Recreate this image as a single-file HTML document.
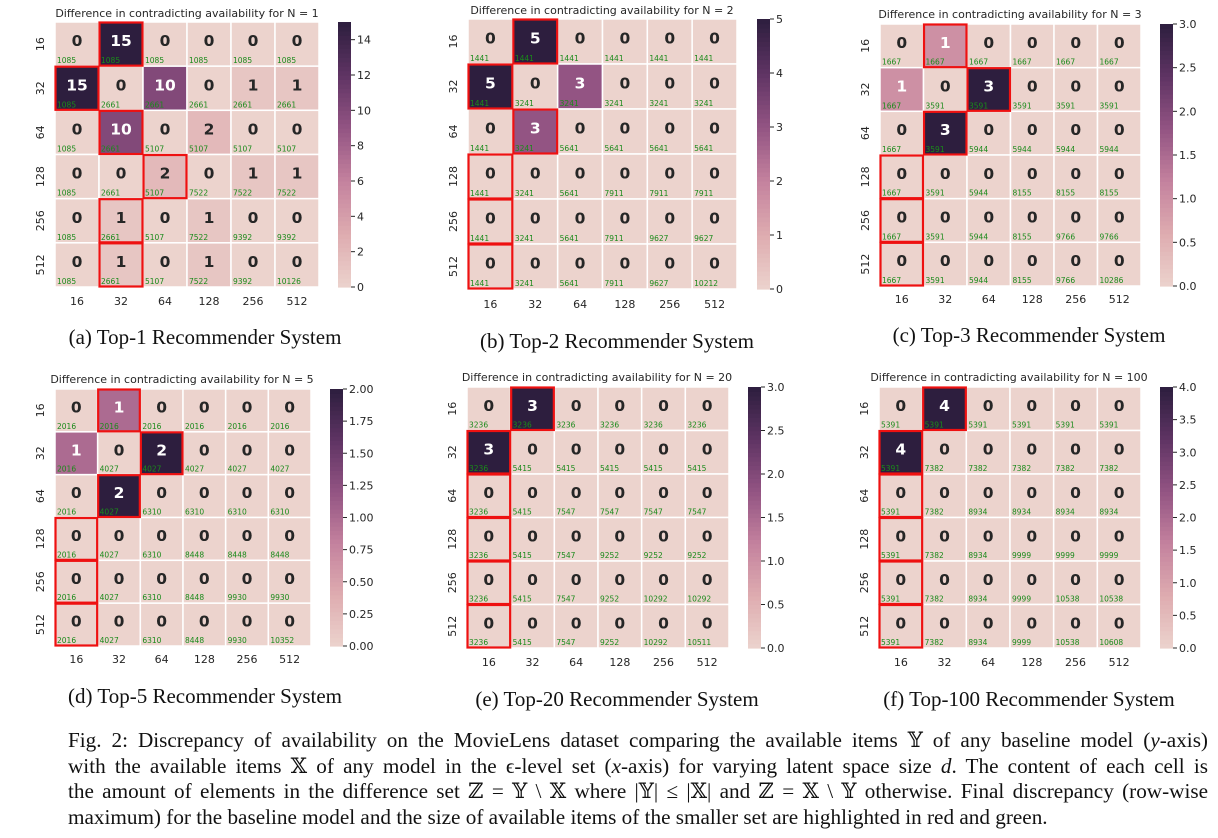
<!DOCTYPE html>
<html><head><meta charset="utf-8">
<style>
html,body{margin:0;padding:0;background:#fff;width:1218px;height:838px;overflow:hidden;position:relative}
svg{position:absolute;left:0;top:0}
.cap{position:absolute;left:68px;width:1140px;font-family:"Liberation Serif","DejaVu Serif",serif;font-size:21.2px;color:#111;line-height:25.7px}
.cap div{text-align:justify;text-align-last:justify;height:25.7px;overflow:visible}
.cap div.last{text-align-last:left}
</style></head>
<body>
<svg id="fig" width="1218" height="838" xmlns="http://www.w3.org/2000/svg"></svg>
<div class="cap" style="top:728px">
<div>Fig. 2: Discrepancy of availability on the MovieLens dataset comparing the available items 𝕐 of any baseline model (<i>y</i>-axis)</div>
<div>with the available items 𝕏 of any model in the ϵ-level set (<i>x</i>-axis) for varying latent space size <i>d</i>. The content of each cell is</div>
<div>the amount of elements in the difference set ℤ = 𝕐 \ 𝕏 where |𝕐| ≤ |𝕏| and ℤ = 𝕏 \ 𝕐 otherwise. Final discrepancy (row-wise</div>
<div class="last">maximum) for the baseline model and the size of available items of the smaller set are highlighted in red and green.</div>
</div>
<script>
const latentSizes = ["16","32","64","128","256","512"];
const valuesA = [[0,15,0,0,0,0],[15,0,10,0,1,1],[0,10,0,2,0,0],[0,0,2,0,1,1],[0,1,0,1,0,0],[0,1,0,1,0,0]];
const valuesB = [[0,5,0,0,0,0],[5,0,3,0,0,0],[0,3,0,0,0,0],[0,0,0,0,0,0],[0,0,0,0,0,0],[0,0,0,0,0,0]];
const valuesC = [[0,1,0,0,0,0],[1,0,3,0,0,0],[0,3,0,0,0,0],[0,0,0,0,0,0],[0,0,0,0,0,0],[0,0,0,0,0,0]];
const valuesD = [[0,1,0,0,0,0],[1,0,2,0,0,0],[0,2,0,0,0,0],[0,0,0,0,0,0],[0,0,0,0,0,0],[0,0,0,0,0,0]];
const valuesE = [[0,3,0,0,0,0],[3,0,0,0,0,0],[0,0,0,0,0,0],[0,0,0,0,0,0],[0,0,0,0,0,0],[0,0,0,0,0,0]];
const valuesF = [[0,4,0,0,0,0],[4,0,0,0,0,0],[0,0,0,0,0,0],[0,0,0,0,0,0],[0,0,0,0,0,0],[0,0,0,0,0,0]];
const sizesA = [1085,2661,5107,7522,9392,10126];
const sizesB = [1441,3241,5641,7911,9627,10212];
const sizesC = [1667,3591,5944,8155,9766,10286];
const sizesD = [2016,4027,6310,8448,9930,10352];
const sizesE = [3236,5415,7547,9252,10292,10511];
const sizesF = [5391,7382,8934,9999,10538,10608];
const highlightA = [1,0,1,2,1,1];
const highlightB = [1,0,1,0,0,0];
const highlightC = [1,2,1,0,0,0];
const highlightD = [1,2,1,0,0,0];
const highlightE = [1,0,0,0,0,0];
const highlightF = [1,0,0,0,0,0];
const vmaxList = [15,5,3,2,3,4];
const ticksA = [0,2,4,6,8,10,12,14];
const ticksB = [0,1,2,3,4,5];
const ticksC = [0,0.5,1,1.5,2,2.5,3];
const ticksD = [0,0.25,0.5,0.75,1,1.25,1.5,1.75,2];
const ticksE = [0,0.5,1,1.5,2,2.5,3];
const ticksF = [0,0.5,1,1.5,2,2.5,3,3.5,4];
const topN = [1,2,3,5,20,100];

const NS="http://www.w3.org/2000/svg";
const svg=document.getElementById('fig');
function mk(tag,attrs,parent){const e=document.createElementNS(NS,tag);for(const k in attrs)e.setAttribute(k,attrs[k]);(parent||svg).appendChild(e);return e;}
const stops=[[236,211,205],[222,172,176],[196,130,158],[147,84,131],[95,52,100],[45,30,62]];
function cmap(t){t=Math.max(0,Math.min(1,t));const p=t*(stops.length-1);const i=Math.min(stops.length-2,Math.floor(p));const f=p-i;const a=stops[i],b=stops[i+1];return `rgb(${Math.round(a[0]+(b[0]-a[0])*f)},${Math.round(a[1]+(b[1]-a[1])*f)},${Math.round(a[2]+(b[2]-a[2])*f)})`;}

const panels=[
 {v:valuesA,s:sizesA,h:highlightA,t:ticksA,dec:0,gx:55,gy:22,gw:264,gh:265,cbx:338,ty:13,tx:187,xl:301,cx:205,cy:344,lab:"(a)"},
 {v:valuesB,s:sizesB,h:highlightB,t:ticksB,dec:0,gx:468,gy:19,gw:269,gh:270,cbx:757,ty:10,tx:602,xl:304,cx:617,cy:348,lab:"(b)"},
 {v:valuesC,s:sizesC,h:highlightC,t:ticksC,dec:1,gx:880,gy:24,gw:261,gh:262,cbx:1160,ty:14,tx:1010,xl:299,cx:1029,cy:342,lab:"(c)"},
 {v:valuesD,s:sizesD,h:highlightD,t:ticksD,dec:2,gx:55,gy:389,gw:256,gh:257,cbx:330,ty:379,tx:182,xl:659,cx:205,cy:703,lab:"(d)"},
 {v:valuesE,s:sizesE,h:highlightE,t:ticksE,dec:1,gx:467,gy:387,gw:262,gh:261,cbx:748,ty:377,tx:597,xl:662,cx:617,cy:706,lab:"(e)"},
 {v:valuesF,s:sizesF,h:highlightF,t:ticksF,dec:1,gx:879,gy:387,gw:262,gh:261,cbx:1160,ty:377,tx:1009,xl:662,cx:1029,cy:706,lab:"(f)"}
];
const sans='"DejaVu Sans","Liberation Sans",sans-serif';
panels.forEach((p,pi)=>{
 const vmax=vmaxList[pi];
 const g=mk('g',{});
 
 
 const n=latentSizes.length, cw=p.gw/n, ch=p.gh/n;
 const xs=j=>p.gx+j*cw, ys=i=>p.gy+i*ch;
 const title=mk('text',{x:p.tx,y:p.ty+4,'text-anchor':'middle','font-family':sans,'font-size':11,fill:'#262626'},g);
 title.textContent='Difference in contradicting availability for N = '+topN[pi];
 
 
 for(let i=0;i<n;i++)for(let j=0;j<n;j++){
  const val=p.v[i][j];
  const r=mk('rect',{x:xs(j),y:ys(i),width:cw,height:ch,fill:cmap(val/vmax),stroke:'#fff','stroke-width':1.5},g);
  
  
  const tv=mk('text',{x:xs(j)+cw/2,y:ys(i)+ch*0.5+2,'text-anchor':'middle','font-family':sans,'font-weight':'bold','font-size':15.5,fill:(val/vmax>0.3?'#fff':'#262626')},g);
  tv.textContent=String(val);
  
  
  const ts=mk('text',{x:xs(j)+2,y:ys(i)+ch-3,'font-family':sans,'font-size':7.5,fill:'#1a8a1a'},g);
  ts.textContent=String(p.s[Math.min(i,j)]);
  
  
 }
 for(let i=0;i<n;i++){
  const j=p.h[i];
  const hr=mk('rect',{x:xs(j)+0.5,y:ys(i)+0.5,width:cw-1,height:ch-1,fill:'none',stroke:'#ee1111','stroke-width':2.2},g);
  
  
 }
 for(let k=0;k<n;k++){
  const xt=mk('text',{x:xs(k)+cw/2,y:p.xl+4,'text-anchor':'middle','font-family':sans,'font-size':11,fill:'#262626'},g);
  xt.textContent=latentSizes[k];
  
  
  const yc=ys(k)+ch/2, yx=p.gx-11;
  const yt=mk('text',{x:yx,y:yc,'text-anchor':'middle','font-family':sans,'font-size':11,fill:'#262626',transform:`rotate(-90 ${yx} ${yc})`},g);
  yt.textContent=latentSizes[k];
  
  
 }
 const cbw=13, cby=p.gy, cbh=p.gh;
 const steps=60;
 for(let s=0;s<steps;s++){
  const cr=mk('rect',{x:p.cbx,y:cby+cbh*(1-(s+1)/steps),width:cbw,height:cbh/steps+0.6,fill:cmap((s+0.5)/steps)},g);
  
  
 }
 p.t.forEach(tk=>{
  const ty=cby+cbh*(1-tk/vmax);
  const tl=mk('line',{x1:p.cbx+cbw,x2:p.cbx+cbw+4,y1:ty,y2:ty,stroke:'#262626','stroke-width':1},g);
  
  
  const tt=mk('text',{x:p.cbx+cbw+6,y:ty+4,'font-family':sans,'font-size':11,fill:'#262626'},g);
  tt.textContent=tk.toFixed(p.dec);
  
  
 });
 const cap=mk('text',{x:p.cx,y:p.cy,'text-anchor':'middle','font-family':'"Liberation Serif",serif','font-size':21,fill:'#111'},g);
 cap.textContent=p.lab+' Top-'+topN[pi]+' Recommender System';
 
 
});
</script>
</body></html>
